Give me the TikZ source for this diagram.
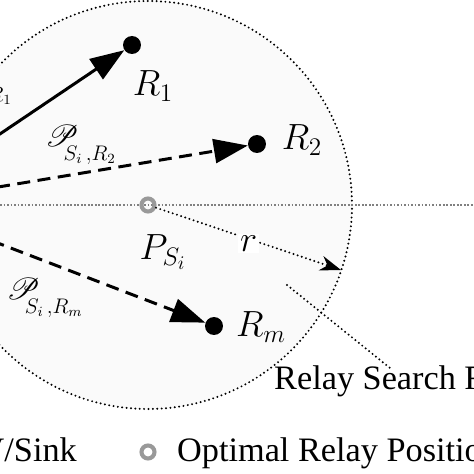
\documentclass[tikz,border=0pt]{standalone}
\usepackage{fontspec}
\setmainfont{Liberation Serif}
\usepackage{amsmath}
\usepackage{mathrsfs}
\usepackage{tikz}
\usetikzlibrary{arrows.meta, positioning}
\colorlet{regionfill}{black!2}
\colorlet{markgray}{black!40}
\newcommand{\pathsym}[2]{\mathscr{P}_{\kern-0.42em\lower0.3em\hbox{$\scriptstyle #1\,,#2$}}}

\begin{document}
\begin{tikzpicture}[x=0.02cm, y=0.02cm, font=\fontsize{19.5}{23}\selectfont,
    relaydot/.style={circle, fill=black, inner sep=0pt, minimum size=0.36cm},
    optmark/.style={circle, draw=markgray, line width=2.3pt, inner sep=0pt, minimum size=0.26cm},
    mathlab/.style={font=\fontsize{22}{26}\selectfont},
    pathlab/.style={font=\fontsize{17}{20}\selectfont},
    dotline/.style={line width=1.25pt, line cap=round, dash pattern=on 0pt off 2.5pt},
    bigtip/.style={-{Triangle[length=0.68cm, width=0.48cm]}, line width=1.7pt},
    dashpath/.style={bigtip, dash pattern=on 0.26cm off 0.15cm}]
    \useasboundingbox (0,0) rectangle (474,474);

    \draw[dotline, fill=regionfill] (148,269) circle (204);
    \coordinate (axisL) at (0,269);
    \coordinate (axisR) at (474,269);
    \draw[gray, line width=0.7pt, dash pattern=on 1pt off 1pt] (axisL) -- (axisR);

    \coordinate (src) at (-104,270);
    \node[relaydot] (R1) at (132,429) {};
    \node[relaydot] (R2) at (257,330) {};
    \node[relaydot] (Rm) at (214,148) {};
    \node[mathlab] at (153,388) {$R_1$};
    \node[mathlab] at (302,334) {$R_2$};
    \node[mathlab] at (261,147) {$R_m$};

    \draw[bigtip] (src) -- (R1);
    \draw[dashpath] (src) -- (R2);
    \draw[dashpath] (src) -- (Rm);
    \node[pathlab] at (-23,388) {$\pathsym{S_i}{R_1}$};
    \node[pathlab] at (81,329) {$\pathsym{S_i}{R_2}$};
    \node[pathlab] at (45,176) {$\pathsym{S_i}{R_m}$};

    \node[optmark] (opt) at (148,269) {};
    \node[mathlab] at (163,222) {$P_{S_i}$};
    \coordinate (redge) at (341,204);
    \draw[dotline, -{Stealth[length=0.42cm, width=0.3cm]}] (opt) -- node[mathlab, fill=white, inner sep=1pt, yshift=-0.09cm] (rlab) {$r$} (redge);

    \coordinate (regpt) at (287,189);
    \coordinate (regtip) at (390,106);
    \node[anchor=base west] (region) at (268,84) {Relay Search Region};
    \draw[dotline] (regpt) -- (regtip);

    \node[anchor=base east] (legsink) at (83,12) {UAV/Sink};
    \node[optmark] (legmark) at (148,22) {};
    \node[anchor=base west] (legopt) at (171,12) {Optimal Relay Position};
  \end{tikzpicture}
\end{document}
